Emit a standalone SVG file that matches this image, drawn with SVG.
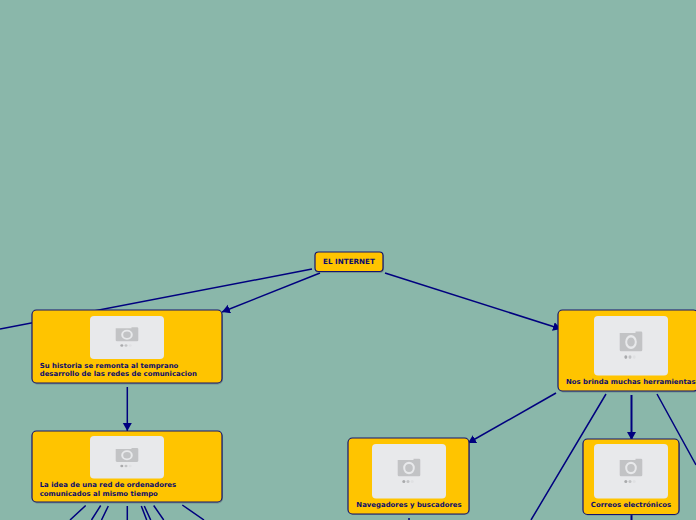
<svg xmlns="http://www.w3.org/2000/svg" xmlns:xlink="http://www.w3.org/1999/xlink" width="696" height="520" viewBox="0 0 696 520">
<style>
.n{fill:#ffc400;stroke:#15156e;stroke-width:1.2}
.s{fill:#4d5a63;opacity:.4}
.i{fill:#e8e9eb}
.t{font-family:"DejaVu Sans",Verdana,sans-serif;font-weight:700;font-size:6.930px;fill:#0c0c6b}
.c{fill:none;stroke:#00007f;stroke-width:1.500}
</style>
<defs>
<marker id="a" markerUnits="userSpaceOnUse" markerWidth="10" markerHeight="10" refX="8" refY="4.500" orient="auto"><path d="M0 0L8 4.500L0 9Z" fill="#00007f"/></marker>
<g id="cam">
<path d="M-11.300-7.500H4.500V-8.700H10Q11.300-8.700 11.300-7.500V6.500Q11.300 7.800 10 7.800H-10Q-11.300 7.800-11.300 6.500Z" fill="#c2c3c5"/>
<circle cx="0" cy="0" r="4.800" fill="none" stroke="#e8e9eb" stroke-width="2"/>
<circle cx="-5.200" cy="12.600" r="1.500" fill="#a9aaac"/><circle cx="-1" cy="12.600" r="1.500" fill="#c2c3c5"/><circle cx="3.200" cy="12.600" r="1.500" fill="#e0e1e3"/>
</g>
</defs>
<rect width="696" height="520" fill="#8ab7aa"/>
<g id="connectors">
<path class="c" d="M312 269L0 329"/>
<path class="c" marker-end="url(#a)" d="M320 273L222 312"/>
<path class="c" marker-end="url(#a)" d="M385 273L561 329"/>
<path class="c" marker-end="url(#a)" d="M127.300 387V431"/>
<path class="c" d="M85.700 505.500L70 520M100.700 505.500L91.500 520M108.300 506L101.500 520M127.300 506V520M141.300 506L146.700 520M144.300 506L150.700 520M153.700 505.500L163.700 520M182.300 505L204 520"/>
<path class="c" marker-end="url(#a)" d="M556 393L468 443"/>
<path class="c" d="M606 394L531 520M657 394L696 465M409 518V520"/>
<path class="c" style="stroke-width:2" marker-end="url(#a)" d="M631.500 395V440"/>
<path class="c" style="stroke-width:2" d="M631.500 515V520"/>
</g>
<g id="root"><rect class="s" x="315" y="253" width="69" height="20" rx="4"/><rect class="n" x="315" y="252" width="68" height="19.500" rx="3.500"/><text class="t" x="349" y="264.300" text-anchor="middle" style="font-size:7.200px">EL INTERNET</text></g>
<g id="historia"><rect class="s" x="32" y="311" width="191" height="73.500" rx="5"/><rect class="n" x="32" y="310" width="190" height="73" rx="4.500"/><rect class="i" x="90" y="316" width="74" height="43" rx="4"/><use xlink:href="#cam" href="#cam" transform="translate(127 334.700) scale(1 .85)"/><text class="t" x="39.700" y="368">Su historia se remonta al temprano</text><text class="t" x="39.700" y="376.300">desarrollo de las redes de comunicacion</text></g>
<g id="idea"><rect class="s" x="32" y="432" width="191" height="71.500" rx="5"/><rect class="n" x="32" y="431" width="190" height="71" rx="4.500"/><rect class="i" x="90" y="436" width="74" height="42.500" rx="4"/><use xlink:href="#cam" href="#cam" transform="translate(127 455.300) scale(1 .85)"/><text class="t" x="39.700" y="486.800">La idea de una red de ordenadores</text><text class="t" x="39.700" y="495.500">comunicados al mismo tiempo</text></g>
<g id="herramientas"><rect class="s" x="558" y="311" width="141" height="81.500" rx="5"/><rect class="n" x="558" y="310" width="140" height="81" rx="4.500"/><rect class="i" x="594" y="316" width="74" height="59.500" rx="4"/><use xlink:href="#cam" href="#cam" transform="translate(631 342) scale(1 1.2)"/><text class="t" x="566" y="383.800">Nos brinda muchas herramientas</text></g>
<g id="navegadores"><rect class="s" x="348" y="439" width="122" height="76" rx="5"/><rect class="n" x="348" y="438" width="121" height="76" rx="4.500"/><rect class="i" x="372" y="444" width="74" height="54.500" rx="4"/><use xlink:href="#cam" href="#cam" transform="translate(409 468) scale(1 1.07)"/><text class="t" x="409" y="506.800" text-anchor="middle">Navegadores y buscadores</text></g>
<g id="correos"><rect class="s" x="583" y="440" width="97" height="75.500" rx="5"/><rect class="n" x="583" y="439" width="96" height="75.500" rx="4.500"/><rect class="i" x="594" y="444" width="74" height="54.500" rx="4"/><use xlink:href="#cam" href="#cam" transform="translate(631 468) scale(1 1.07)"/><text class="t" x="631" y="506.800" text-anchor="middle">Correos electrónicos</text></g>
</svg>
